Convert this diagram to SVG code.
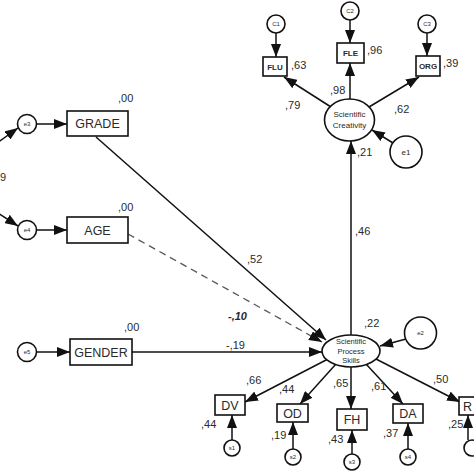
<svg xmlns="http://www.w3.org/2000/svg" width="474" height="474" viewBox="0 0 474 474">
<style>
text{font-family:"Liberation Sans",Arial,sans-serif;fill:#2a2a2a}
.lbl{font-size:11px}
.box{fill:#fff;stroke:#111;stroke-width:1.6}
.ell{fill:#fff;stroke:#111;stroke-width:1.6}
.ln{stroke:#111;stroke-width:1.5;fill:none}
.dash{stroke:#555;stroke-width:1.3;stroke-dasharray:7,5;fill:none}
.bt{font-size:12.5px;text-anchor:middle}
.sb{font-size:8px;font-weight:bold;text-anchor:middle}
.et{font-size:6px;text-anchor:middle}
.lt{font-size:7.5px;text-anchor:middle}
</style>
<defs>
<marker id="ah" viewBox="0 0 13 10" refX="13" refY="5" markerWidth="13" markerHeight="10" markerUnits="userSpaceOnUse" orient="auto">
<path d="M0,0 L13,5 L0,10 Z" fill="#111"/>
</marker>
</defs>
<rect width="474" height="474" fill="#fff"/>
<g id="connectors">
<line class="ln" x1="-10" y1="148" x2="18" y2="128" marker-end="url(#ah)"/>
<line class="ln" x1="-10" y1="208" x2="18" y2="226" marker-end="url(#ah)"/>
<line class="ln" x1="37" y1="124" x2="67" y2="124" marker-end="url(#ah)"/>
<line class="ln" x1="37" y1="230" x2="67" y2="230" marker-end="url(#ah)"/>
<line class="ln" x1="37" y1="352" x2="70" y2="352" marker-end="url(#ah)"/>
<line class="ln" x1="96" y1="137" x2="326" y2="340" marker-end="url(#ah)"/>
<line class="dash" x1="128" y1="234" x2="322" y2="342" marker-end="url(#ah)"/>
<line class="ln" x1="132" y1="352" x2="322" y2="352" marker-end="url(#ah)"/>
<line class="ln" x1="351" y1="335" x2="351" y2="141" marker-end="url(#ah)"/>
<line class="ln" x1="406" y1="339" x2="380" y2="346" marker-end="url(#ah)"/>
<line class="ln" x1="393" y1="143" x2="372" y2="130" marker-end="url(#ah)"/>
<line class="ln" x1="331" y1="107" x2="284" y2="77" marker-end="url(#ah)"/>
<line class="ln" x1="350" y1="99" x2="350" y2="63" marker-end="url(#ah)"/>
<line class="ln" x1="369" y1="107" x2="419" y2="77" marker-end="url(#ah)"/>
<line class="ln" x1="276" y1="33" x2="276" y2="57" marker-end="url(#ah)"/>
<line class="ln" x1="350" y1="20" x2="350" y2="43" marker-end="url(#ah)"/>
<line class="ln" x1="427" y1="33" x2="427" y2="56" marker-end="url(#ah)"/>
<line class="ln" x1="328" y1="359" x2="245" y2="402" marker-end="url(#ah)"/>
<line class="ln" x1="336" y1="364" x2="300" y2="404" marker-end="url(#ah)"/>
<line class="ln" x1="351" y1="367" x2="351" y2="409" marker-end="url(#ah)"/>
<line class="ln" x1="366" y1="364" x2="403" y2="404" marker-end="url(#ah)"/>
<line class="ln" x1="376" y1="359" x2="460" y2="402" marker-end="url(#ah)"/>
<line class="ln" x1="232" y1="440" x2="232" y2="415" marker-end="url(#ah)"/>
<line class="ln" x1="293" y1="449" x2="293" y2="422" marker-end="url(#ah)"/>
<line class="ln" x1="352" y1="454" x2="352" y2="430" marker-end="url(#ah)"/>
<line class="ln" x1="408" y1="449" x2="408" y2="423" marker-end="url(#ah)"/>
<line class="ln" x1="468" y1="440" x2="468" y2="415" marker-end="url(#ah)"/>
</g>
<g id="e3"><circle class="ell" cx="27" cy="124" r="9.5"/><text class="et" x="27" y="126">e3</text></g>
<g id="e4"><circle class="ell" cx="27" cy="230" r="9.5"/><text class="et" x="27" y="232">e4</text></g>
<g id="e5"><circle class="ell" cx="27" cy="352" r="9.5"/><text class="et" x="27" y="354">e5</text></g>
<g id="grade"><rect class="box" x="67" y="111" width="61" height="25"/><text class="bt" x="97.5" y="128">GRADE</text><text class="lbl" x="118" y="102">,00</text></g>
<g id="age"><rect class="box" x="67" y="217" width="61" height="26"/><text class="bt" x="97.5" y="234.5">AGE</text><text class="lbl" x="118" y="211">,00</text></g>
<g id="gender"><rect class="box" x="70" y="339" width="62" height="26"/><text class="bt" x="101" y="356.5">GENDER</text><text class="lbl" x="124" y="331">,00</text></g>
<g id="sps"><ellipse class="ell" cx="351" cy="351" rx="29" ry="16"/><text class="lt" x="351" y="344">Scientific</text><text class="lt" x="351" y="353.5">Process</text><text class="lt" x="351" y="363">Skills</text><text class="lbl" x="364" y="327">,22</text></g>
<g id="e2"><circle class="ell" cx="420.5" cy="333" r="16"/><text class="et" x="420.5" y="335">e2</text></g>
<g id="sc"><ellipse class="ell" cx="349.5" cy="120" rx="25" ry="21"/><text class="lt" x="349.5" y="117" style="font-size:8px">Scientific</text><text class="lt" x="349.5" y="128" style="font-size:8px">Creativity</text><text class="lbl" x="357" y="156">,21</text></g>
<g id="e1"><circle class="ell" cx="406" cy="152" r="16"/><text class="lt" x="406" y="155" style="font-size:8px">e1</text></g>
<g id="flu"><rect class="box" x="263" y="57" width="24" height="19"/><text class="sb" x="275" y="69.5">FLU</text><text class="lbl" x="291" y="69">,63</text></g>
<g id="fle"><rect class="box" x="337" y="43" width="27" height="20"/><text class="sb" x="350.5" y="56">FLE</text><text class="lbl" x="367" y="54">,96</text></g>
<g id="org"><rect class="box" x="416" y="56" width="24" height="20"/><text class="sb" x="428" y="69">ORG</text><text class="lbl" x="443" y="67">,39</text></g>
<g id="c1"><circle class="ell" cx="276" cy="24" r="9"/><text class="et" x="276" y="26">C1</text></g>
<g id="c2"><circle class="ell" cx="350" cy="11" r="9"/><text class="et" x="350" y="13">C2</text></g>
<g id="c3"><circle class="ell" cx="427" cy="24" r="9"/><text class="et" x="427" y="26">C3</text></g>
<g id="dv"><rect class="box" x="215" y="395" width="30" height="20"/><text class="bt" x="230" y="409.5">DV</text><text class="lbl" x="246" y="384">,66</text><text class="lbl" x="201" y="428">,44</text></g>
<g id="od"><rect class="box" x="277" y="404" width="31" height="18"/><text class="bt" x="292.5" y="417.5">OD</text><text class="lbl" x="279" y="393">,44</text><text class="lbl" x="271" y="439">,19</text></g>
<g id="fh"><rect class="box" x="337" y="409" width="30" height="21"/><text class="bt" x="352" y="424">FH</text><text class="lbl" x="333" y="387">,65</text><text class="lbl" x="328" y="443">,43</text></g>
<g id="da"><rect class="box" x="393" y="404" width="30" height="19"/><text class="bt" x="408" y="418">DA</text><text class="lbl" x="371" y="390">,61</text><text class="lbl" x="383" y="437">,37</text></g>
<g id="r"><rect class="box" x="459" y="397" width="30" height="18"/><text class="bt" x="463" y="410.5" style="text-anchor:start">R</text><text class="lbl" x="433" y="383">,50</text><text class="lbl" x="448" y="428">,25</text></g>
<g id="s1"><circle class="ell" cx="232" cy="448" r="8"/><text class="et" x="232" y="450">s1</text></g>
<g id="s2"><circle class="ell" cx="293" cy="457" r="8"/><text class="et" x="293" y="459">s2</text></g>
<g id="s3"><circle class="ell" cx="352" cy="462" r="8"/><text class="et" x="352" y="464">s3</text></g>
<g id="s4"><circle class="ell" cx="408" cy="457" r="8"/><text class="et" x="408" y="459">s4</text></g>
<g id="s5"><circle class="ell" cx="472" cy="448" r="8"/></g>
<g id="edge-labels">
<text class="lbl" x="247" y="263">,52</text>
<text class="lbl" x="228" y="320" style="font-weight:bold;font-style:italic">-,10</text>
<text class="lbl" x="226" y="349">-,19</text>
<text class="lbl" x="355" y="235">,46</text>
<text class="lbl" x="285" y="109">,79</text>
<text class="lbl" x="330" y="94">,98</text>
<text class="lbl" x="394" y="113">,62</text>
<text class="lbl" x="0" y="181">9</text>
</g>
</svg>
